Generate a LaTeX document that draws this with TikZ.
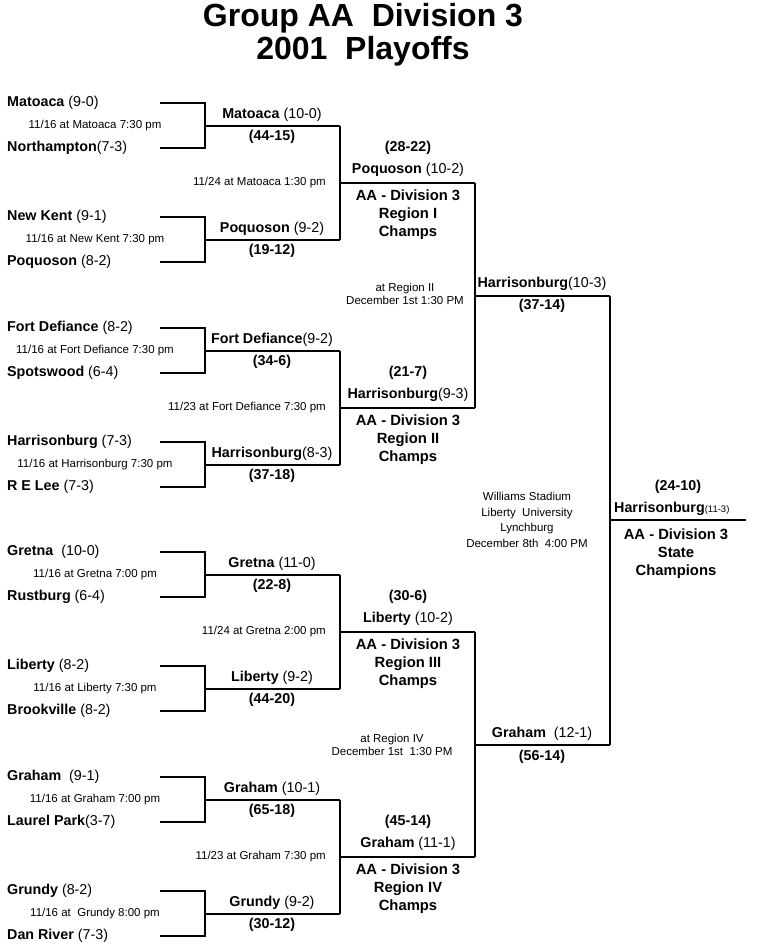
\documentclass[tikz,border=0pt]{standalone}
\usepackage{fontspec}
\setmainfont{Liberation Sans}
\begin{document}
\begin{tikzpicture}[x=1pt,y=-1pt,
  team/.style={anchor=west,inner sep=0pt,font=\fontsize{14.3}{15}\selectfont},
  win/.style={inner sep=0pt,font=\fontsize{14.3}{15}\selectfont},
  date/.style={inner sep=0pt,font=\fontsize{11.5}{12.5}\selectfont,align=center},
  big/.style={inner sep=0pt,font=\fontsize{14.8}{18}\selectfont\bfseries,align=center},
  br/.style={line width=1.1pt}]
\useasboundingbox (0,0) rectangle (770,952);
\node[inner sep=0pt,font=\fontsize{32}{33}\selectfont\bfseries,align=center] (title) at (363,35) {Group AA\ \ Division 3\\2001\ \ Playoffs};
\newcommand\rgame[9]{%
  \node[team] (ta#1) at (7,#1) {\textbf{#2} #3};
  \node[team] (tb#1) at (7,#1+45) {\textbf{#5}#6};
  \node[date] (d#1) at (95,#1+23) {#4};
  \coordinate (a1#1) at (160,#1); \coordinate (a2#1) at (205,#1);
  \coordinate (b1#1) at (160,#1+45); \coordinate (b2#1) at (205,#1+45);
  \coordinate (w1#1) at (205,#1+23); \coordinate (w2#1) at (340,#1+23);
  \draw[br] (a1#1) -- (a2#1) -- (b2#1) -- (b1#1);
  \draw[br] (w1#1) -- (w2#1);
  \node[win] (wn#1) at (272,#1+12) {\textbf{#7}#8};
  \node[win] (ws#1) at (272,#1+34) {\textbf{#9}};
}
\rgame{103}{Matoaca}{(9-0)}{11/16 at Matoaca 7:30 pm}{Northampton}{(7-3)}{Matoaca}{ (10-0)}{(44-15)}
\rgame{217}{New Kent}{(9-1)}{11/16 at New Kent 7:30 pm}{Poquoson}{ (8-2)}{Poquoson}{ (9-2)}{(19-12)}
\rgame{328}{Fort Defiance}{(8-2)}{11/16 at Fort Defiance 7:30 pm}{Spotswood}{ (6-4)}{Fort Defiance}{(9-2)}{(34-6)}
\rgame{442}{Harrisonburg}{(7-3)}{11/16 at Harrisonburg 7:30 pm}{R E Lee}{ (7-3)}{Harrisonburg}{(8-3)}{(37-18)}
\rgame{552}{Gretna}{ (10-0)}{11/16 at Gretna 7:00 pm}{Rustburg}{ (6-4)}{Gretna}{ (11-0)}{(22-8)}
\rgame{666}{Liberty}{(8-2)}{11/16 at Liberty 7:30 pm}{Brookville}{ (8-2)}{Liberty}{ (9-2)}{(44-20)}
\rgame{777}{Graham}{ (9-1)}{11/16 at Graham 7:00 pm}{Laurel Park}{(3-7)}{Graham}{ (10-1)}{(65-18)}
\rgame{891}{Grundy}{(8-2)}{11/16 at\ \ Grundy 8:00 pm}{Dan River}{ (7-3)}{Grundy}{ (9-2)}{(30-12)}
\newcommand\sgame[7]{%
  \coordinate (s1#1) at (340,#1+80); \coordinate (s2#1) at (475,#1+80);
  \draw[br] (w2#1) -- (w2#2);
  \draw[br] (s1#1) -- (s2#1);
  \node[date,anchor=east] (md#1) at (326,#1+80) {#3};
  \node[win] (sc#1) at (408,#1+45) {\textbf{#4}};
  \node[win] (sn#1) at (408,#1+67) {\textbf{#5}#6};
  \node[big] (rg#1) at (408,#1+112) {AA - Division 3\\#7\\Champs};
}
\sgame{103}{217}{11/24 at Matoaca 1:30 pm}{(28-22)}{Poquoson}{ (10-2)}{Region I}
\sgame{328}{442}{11/23 at Fort Defiance 7:30 pm}{(21-7)}{Harrisonburg}{(9-3)}{Region II}
\sgame{552}{666}{11/24 at Gretna 2:00 pm}{(30-6)}{Liberty}{ (10-2)}{Region III}
\sgame{777}{891}{11/23 at Graham 7:30 pm}{(45-14)}{Graham}{ (11-1)}{Region IV}
\coordinate (r1a) at (475,296); \coordinate (r1b) at (610,296);
\coordinate (r2a) at (475,745); \coordinate (r2b) at (610,745);
\draw[br] (s2103) -- (s2328);
\draw[br] (s2552) -- (s2777);
\draw[br] (r1a) -- (r1b);
\draw[br] (r2a) -- (r2b);
\node[win] (r1n) at (542,284) {\textbf{Harrisonburg}(10-3)};
\node[win] (r1s) at (542,306) {\textbf{(37-14)}};
\node[win] (r2n) at (542,734) {\textbf{Graham}\ \ (12-1)};
\node[win] (r2s) at (542,757) {\textbf{(56-14)}};
\node[date] (r1d) at (405,294) {at Region II\\December 1st 1:30 PM};
\node[date] (r2d) at (392,745) {at Region IV\\December 1st\ \ 1:30 PM};
\coordinate (fa) at (610,520); \coordinate (fb) at (746,520);
\draw[br] (r1b) -- (r2b);
\draw[br] (fa) -- (fb);
\node[win] (fs) at (678,487) {\textbf{(24-10)}};
\node[win,anchor=west] (fn) at (614,509) {\textbf{Harrisonburg}{\fontsize{9.5}{10}\selectfont(11-3)}};
\node[big] (fc) at (676,554) {AA - Division 3\\State\\Champions};
\node[date,font=\fontsize{11.5}{15.5}\selectfont] (fd) at (527,520) {Williams Stadium\\Liberty\ \ University\\Lynchburg\\December 8th\ \ 4:00 PM};
\end{tikzpicture}
\end{document}
